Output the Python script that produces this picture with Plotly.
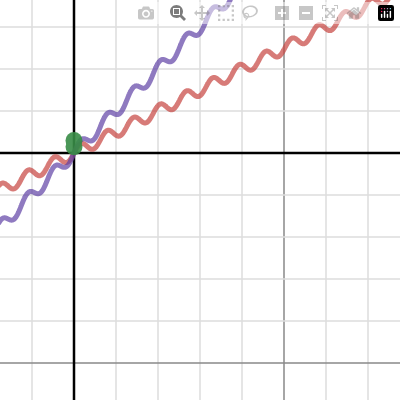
import numpy as np
import plotly.graph_objects as go

# curve parameters y = slope*x + amp*sin(freq*x)
red_params = [0.5, 0.14, 10.0]
purple_params = [1.0, 0.15, 10.0]
point_x = [0, 0]
point_y = [0.3, 0.15]

x = np.linspace(-1.8, 7.8, 3000)
def f(p):
    return p[0]*x + p[1]*np.sin(p[2]*x)

fig = go.Figure()
fig.add_trace(go.Scatter(x=x, y=f(red_params), mode="lines",
                         line=dict(color="#c74440", width=5, shape="spline"), opacity=0.7))
fig.add_trace(go.Scatter(x=x, y=f(purple_params), mode="lines",
                         line=dict(color="#6042a6", width=5, shape="spline"), opacity=0.7))
fig.add_trace(go.Scatter(x=point_x, y=point_y, mode="markers",
                         marker=dict(color="#388c46", size=17), opacity=0.9))

xr = [-74/42, 326/42]
yr = [-247/42, 153/42]
shapes = []
for i in range(-1, 8):
    if i == 0: continue
    shapes.append(dict(type="line", xref="x", yref="paper", x0=i, x1=i, y0=0, y1=1, layer="below",
                       line=dict(color="#888" if i % 5 == 0 else "#ddd", width=1.5)))
for j in range(-5, 4):
    if j == 0: continue
    shapes.append(dict(type="line", xref="paper", yref="y", y0=j, y1=j, x0=0, x1=1, layer="below",
                       line=dict(color="#888" if j % 5 == 0 else "#ddd", width=1.5)))
shapes.append(dict(type="line", xref="x", yref="paper", x0=0, x1=0, y0=0, y1=1, layer="below", line=dict(color="black", width=2.5)))
shapes.append(dict(type="line", xref="paper", yref="y", y0=0, y1=0, x0=0, x1=1, layer="below", line=dict(color="black", width=2.5)))

fig.update_layout(width=400, height=400, margin=dict(l=0, r=0, t=0, b=0),
                  plot_bgcolor="white", paper_bgcolor="white", showlegend=False, shapes=shapes,
                  xaxis=dict(range=xr, visible=False, showgrid=False, zeroline=False),
                  yaxis=dict(range=yr, visible=False, showgrid=False, zeroline=False))
fig.write_html("out.html", post_script="document.body.style.margin='0';document.body.style.overflow='hidden';")
